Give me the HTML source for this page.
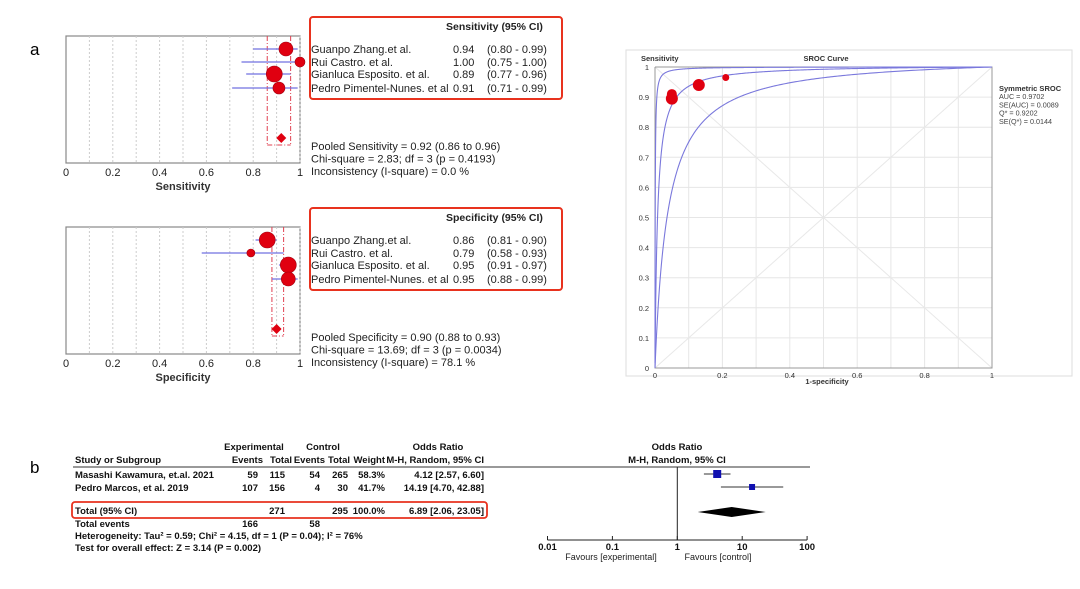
<!DOCTYPE html>
<html><head><meta charset="utf-8">
<style>
html,body{margin:0;padding:0;background:#fff;}
svg{display:block;font-family:"Liberation Sans",sans-serif;}
</style></head>
<body>
<svg id="fig" width="1080" height="589" viewBox="0 0 1080 589" xmlns="http://www.w3.org/2000/svg">
<text x="30" y="55" font-size="17">a</text>
<text x="30" y="473" font-size="17">b</text>
<g id="sens"></g>
<g id="spec"></g>
<g id="sroc"></g>
<g id="orp"></g>
</svg>
<script>
// ---------- data ----------
const studies = ["Guanpo Zhang.et al.","Rui Castro. et al.","Gianluca Esposito. et al.","Pedro Pimentel-Nunes. et al"];
const sensVal = [0.94,1.00,0.89,0.91];
const sensLo = [0.80,0.75,0.77,0.71];
const sensHi = [0.99,1.00,0.96,0.99];
const sensR = [7,5,8,6];
const sensPooled = [0.92,0.86,0.96];
const specVal = [0.86,0.79,0.95,0.95];
const specLo = [0.81,0.58,0.91,0.88];
const specHi = [0.90,0.93,0.97,0.99];
const specR = [8,4,8,7];
const specPooled = [0.90,0.88,0.93];
const forestTicks = [0,0.2,0.4,0.6,0.8,1];
const srocFpr = [0.05,0.05,0.13,0.21];
const srocTpr = [0.91,0.895,0.94,0.965];
const srocR = [5,6,6,3.5];
const srocD = [7.4,4.88,3.3];
const srocTicksY = [0,0.1,0.2,0.3,0.4,0.5,0.6,0.7,0.8,0.9,1];
const srocTicksX = [0,0.2,0.4,0.6,0.8,1];
const orStudy = ["Masashi Kawamura, et.al. 2021","Pedro Marcos, et al. 2019"];
const orExpEv = [59,107], orExpTot=[115,156], orCtlEv=[54,4], orCtlTot=[265,30];
const orWeight = ["58.3%","41.7%"];
const orVal = [4.12,14.19], orLo=[2.57,4.70], orHi=[6.60,42.88];
const orTotal = [6.89,2.06,23.05];
const orTicks = [0.01,0.1,1,10,100];
const orTickLabels = ["0.01","0.1","1","10","100"];

const NS="http://www.w3.org/2000/svg";
function el(parent,tag,attrs,text){const e=document.createElementNS(NS,tag);for(const k in attrs)e.setAttribute(k,attrs[k]);if(text!==undefined)e.textContent=text;parent.appendChild(e);return e;}

function forest(g,top,vals,lo,hi,rad,pooled,axisTitle,hdr,statLines){
  const x0=66,x1=300,yT=top,yB=top+127;
  const sx=v=>x0+v*(x1-x0);
  const rows=[13,26,38,52].map(d=>yT+d);
  const frame=el(g,'rect',{x:x0,y:yT,width:x1-x0,height:yB-yT,fill:'#fff',stroke:'#888','stroke-width':1.2});
  
  for(let v=0.1;v<1;v+=0.1){const l=el(g,'line',{x1:sx(v),x2:sx(v),y1:yT,y2:yB,stroke:'#ccc','stroke-dasharray':'2,2'});}
  forestTicks.forEach(t=>{const tx=el(g,'text',{x:sx(t),y:yB+13,'font-size':11,'text-anchor':'middle',fill:'#222'},String(t));});
  const at=el(g,'text',{x:sx(0.5),y:yB+27,'font-size':11,'font-weight':'bold','text-anchor':'middle',fill:'#333'},axisTitle);
  
  const yd=yT+102;
  [pooled[1],pooled[2]].forEach(v=>{const l=el(g,'line',{x1:sx(v),x2:sx(v),y1:yT,y2:yd+7,stroke:'#e04050','stroke-dasharray':'5,2,1,2','stroke-width':1});});
  const hl=el(g,'line',{x1:sx(pooled[1]),x2:sx(pooled[2]),y1:yd+7,y2:yd+7,stroke:'#e04050','stroke-dasharray':'5,2,1,2'});
  
  vals.forEach((v,i)=>{
    const l=el(g,'line',{x1:sx(lo[i]),x2:sx(hi[i]),y1:rows[i],y2:rows[i],stroke:'#7070e0','stroke-width':1.2});
    
    const c=el(g,'circle',{cx:sx(v),cy:rows[i],r:rad[i],fill:'#e00010',stroke:'#a00010','stroke-width':0.6});
    
  });
  const px=sx(pooled[0]);
  const d=el(g,'polygon',{points:`${px-5},${yd} ${px},${yd-5} ${px+5},${yd} ${px},${yd+5}`,fill:'#e00010'});
  
  // table
  const bx=el(g,'rect',{x:310,y:top-19,width:252,height:82,rx:3,fill:'none',stroke:'#e8321e','stroke-width':2});
  
  const h=el(g,'text',{x:446,y:top-6,'font-size':10.5,'font-weight':'bold',fill:'#222'},hdr);
  
  studies.forEach((s,i)=>{
    const y=rows[i]+4;
    const a=el(g,'text',{x:311,y:y,'font-size':11,fill:'#222'},s);
    const b=el(g,'text',{x:453,y:y,'font-size':11,fill:'#222'},vals[i].toFixed(2));
    const c=el(g,'text',{x:487,y:y,'font-size':11,fill:'#222'},`(${lo[i].toFixed(2)} - ${hi[i].toFixed(2)})`);
  });
  statLines.forEach((s,i)=>{const t=el(g,'text',{x:311,y:top+114+i*12.5,'font-size':11,fill:'#222'},s);});
}
forest(document.getElementById('sens'),36,sensVal,sensLo,sensHi,sensR,sensPooled,'Sensitivity','Sensitivity (95% CI)',
 ['Pooled Sensitivity = 0.92 (0.86 to 0.96)','Chi-square = 2.83; df =  3 (p = 0.4193)','Inconsistency (I-square) = 0.0 %']);
forest(document.getElementById('spec'),227,specVal,specLo,specHi,specR,specPooled,'Specificity','Specificity (95% CI)',
 ['Pooled Specificity = 0.90 (0.88 to 0.93)','Chi-square = 13.69; df =  3 (p = 0.0034)','Inconsistency (I-square) = 78.1 %']);

// ---------- SROC ----------
(function(){
  const g=document.getElementById('sroc');
  const X0=655,X1=992,Y0=368,Y1=67;
  const sx=v=>X0+v*(X1-X0), sy=v=>Y0-v*(Y0-Y1);
  const of=el(g,'rect',{x:626,y:50,width:446,height:326,fill:'none',stroke:'#ddd'});
  for(let v=0.1;v<1.01;v+=0.1){
    const a=el(g,'line',{x1:sx(v),x2:sx(v),y1:Y1,y2:Y0,stroke:'#e6e6e6'});
    const b=el(g,'line',{x1:X0,x2:X1,y1:sy(v),y2:sy(v),stroke:'#e6e6e6'});
  }
  const d1=el(g,'line',{x1:X0,y1:Y0,x2:X1,y2:Y1,stroke:'#e8e8e8'});
  const d2=el(g,'line',{x1:X0,y1:Y1,x2:X1,y2:Y0,stroke:'#e8e8e8'});
  const fr=el(g,'path',{d:`M${X0},${Y1} V${Y0} H${X1} V${Y1} H${X0}`,fill:'none',stroke:'#999'});
  srocTicksY.forEach(t=>{const tx=el(g,'text',{x:X0-6,y:sy(t)+3,'font-size':7.5,'text-anchor':'end',fill:'#333'},String(t));});
  srocTicksX.forEach(t=>{const tx=el(g,'text',{x:sx(t),y:Y0+10,'font-size':7.5,'text-anchor':'middle',fill:'#333'},String(t));});
  const t1=el(g,'text',{x:641,y:61,'font-size':7.5,'font-weight':'bold',fill:'#333'},'Sensitivity');
  const t2=el(g,'text',{x:826,y:61,'font-size':7.5,'font-weight':'bold','text-anchor':'middle',fill:'#333'},'SROC Curve');
  const t3=el(g,'text',{x:827,y:384,'font-size':7.5,'font-weight':'bold','text-anchor':'middle',fill:'#333'},'1-specificity');
  srocD.forEach(D=>{
    let p='';
    for(let i=0;i<=400;i++){const f=Math.pow(i/400,3);const fc=Math.min(Math.max(f,1e-5),1-1e-6);
      const lg=Math.log(fc/(1-fc))+D;const t=1/(1+Math.exp(-lg));p+=(i?'L':'M')+sx(f).toFixed(2)+','+sy(t).toFixed(2);}
    const c=el(g,'path',{d:p,fill:'none',stroke:'#7a78dc','stroke-width':1.1});
  });
  srocFpr.forEach((f,i)=>{const c=el(g,'circle',{cx:sx(f),cy:sy(srocTpr[i]),r:srocR[i],fill:'#e00010'});});
  const leg=['AUC = 0.9702','SE(AUC) = 0.0089','Q* = 0.9202','SE(Q*) = 0.0144'];
  const lt=el(g,'text',{x:999,y:91,'font-size':7.5,'font-weight':'bold',fill:'#333'},'Symmetric SROC');
  leg.forEach((s,i)=>{const t=el(g,'text',{x:999,y:99+i*8.3,'font-size':7.2,fill:'#444'},s);});
})();

// ---------- Odds ratio ----------
(function(){
  const g=document.getElementById('orp');
  const fs=9.5;
  function T(x,y,s,anchor,name,extra){const t=el(g,'text',Object.assign({x:x,y:y,'font-size':fs,'font-weight':'bold','text-anchor':anchor||'start',fill:'#111'},extra||{}),s);return t;}
  T(254,450,'Experimental','middle','header-experimental');
  T(323,450,'Control','middle','header-control');
  T(438,450,'Odds Ratio','middle','header-odds-ratio');
  T(75,463,'Study or Subgroup','start','header-study');
  T(263,463,'Events','end','header-events');T(292,463,'Total','end','header-total');
  T(325,463,'Events','end','header-events');T(350,463,'Total','end','header-total');
  T(385,463,'Weight','end','header-weight');T(484,463,'M-H, Random, 95% CI','end','header-ci');
  T(677,450,'Odds Ratio','middle','header-odds-ratio-plot');T(677,463,'M-H, Random, 95% CI','middle','header-ci-plot');
  const hl=el(g,'line',{x1:73,x2:810,y1:467,y2:467,stroke:'#333'});
  const LX=547.5,DEC=64.9;const sx=v=>LX+(Math.log10(v)+2)*DEC;
  const rows=[474,487];
  orStudy.forEach((s,i)=>{
    const y=rows[i]+4;
    T(75,y,s,'start','study-name');T(258,y,String(orExpEv[i]),'end','exp-events');T(285,y,String(orExpTot[i]),'end','exp-total');
    T(320,y,String(orCtlEv[i]),'end','ctl-events');T(348,y,String(orCtlTot[i]),'end','ctl-total');T(385,y,orWeight[i],'end','weight');
    T(484,y,`${orVal[i].toFixed(2)} [${orLo[i].toFixed(2)}, ${orHi[i].toFixed(2)}]`,'end','odds-ratio-ci');
    const l=el(g,'line',{x1:sx(orLo[i]),x2:sx(orHi[i]),y1:rows[i],y2:rows[i],stroke:'#333'});
    const sz=i==0?8:6;
    const r=el(g,'rect',{x:sx(orVal[i])-sz/2,y:rows[i]-sz/2,width:sz,height:sz,fill:'#1010b0'});
  });
  const bx=el(g,'rect',{x:72,y:502,width:415,height:16,rx:3,fill:'none',stroke:'#e8321e','stroke-width':1.8});
  T(75,514,'Total (95% CI)','start','total-label');T(285,514,'271','end','total-exp');T(348,514,'295','end','total-ctl');
  T(385,514,'100.0%','end','total-weight');T(484,514,'6.89 [2.06, 23.05]','end','total-or');
  T(75,527,'Total events','start','total-events-label');T(258,527,'166','end','total-events-exp');T(320,527,'58','end','total-events-ctl');
  T(75,539,'Heterogeneity: Tau² = 0.59; Chi² = 4.15, df = 1 (P = 0.04); I² = 76%','start','heterogeneity');
  T(75,551,'Test for overall effect: Z = 3.14 (P = 0.002)','start','overall-effect');
  const yd=512;
  const dm=el(g,'polygon',{points:`${sx(orTotal[1])},${yd} ${sx(orTotal[0])},${yd-5} ${sx(orTotal[2])},${yd} ${sx(orTotal[0])},${yd+5}`,fill:'#000'});
  
  const vl=el(g,'line',{x1:sx(1),x2:sx(1),y1:467,y2:540,stroke:'#222'});
  const ax=el(g,'line',{x1:sx(0.01),x2:sx(100),y1:540,y2:540,stroke:'#222'});
  orTicks.forEach((t,i)=>{
    const tk=el(g,'line',{x1:sx(t),x2:sx(t),y1:536,y2:540,stroke:'#222'});
    T(sx(t),550,orTickLabels[i],'middle','x-tick-label');
  });
  const f1=el(g,'text',{x:611,y:560,'font-size':9,'text-anchor':'middle',fill:'#222'},'Favours [experimental]');
  const f2=el(g,'text',{x:718,y:560,'font-size':9,'text-anchor':'middle',fill:'#222'},'Favours [control]');
})();
</script>
</body></html>
